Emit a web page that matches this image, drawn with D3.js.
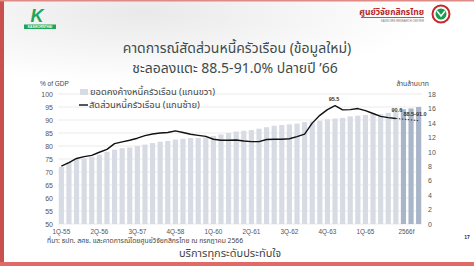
<!DOCTYPE html>
<html><head><meta charset="utf-8">
<script src="https://cdn.jsdelivr.net/npm/d3@7"></script>
<style>
html,body{margin:0;padding:0;background:#fff;}
svg{display:block;font-family:"Noto Sans Thai","Noto Sans","DejaVu Sans",sans-serif;}
</style></head>
<body><svg id="c" width="474" height="266"></svg>
<script>
const quarters = ["1Q-55","2Q-55","3Q-55","4Q-55","1Q-56","2Q-56","3Q-56","4Q-56","1Q-57","2Q-57","3Q-57","4Q-57",
"1Q-58","2Q-58","3Q-58","4Q-58","1Q-59","2Q-59","3Q-59","4Q-59","1Q-60","2Q-60","3Q-60","4Q-60",
"1Q-61","2Q-61","3Q-61","4Q-61","1Q-62","2Q-62","3Q-62","4Q-62","1Q-63","2Q-63","3Q-63","4Q-63",
"1Q-64","2Q-64","3Q-64","4Q-64","1Q-65","2Q-65","3Q-65","4Q-65","1Q-66","2Q-66","3Q-66","4Q-66"];
// outstanding household debt, trillion baht (right axis)
const debtOutstanding = [7.9,8.6,9.0,9.1,9.3,9.6,10.0,10.3,10.5,10.6,10.8,11.0,
11.2,11.4,11.5,11.7,11.8,11.9,11.9,12.0,12.2,12.4,12.6,12.8,
12.9,13.0,13.2,13.4,13.6,13.7,13.8,13.9,14.1,14.2,14.3,14.5,
14.6,14.7,14.9,15.0,15.1,15.3,15.2,15.4,15.5,15.9,16.0,16.2];
const forecastFlag = [0,0,0,0,0,0,0,0,0,0,0,0,0,0,0,0,0,0,0,0,0,0,0,0,0,0,0,0,0,0,0,0,0,0,0,0,0,0,0,0,0,0,0,0,0,1,1,1];
// household debt to GDP, % (left axis), actual up to 1Q-66
const debtToGDP = [72.3,73.6,75.2,75.9,76.4,77.6,78.7,80.9,81.6,82.2,83.0,84.0,
84.6,85.0,85.2,85.8,85.2,84.5,84.1,83.7,82.6,82.2,82.2,82.3,
81.9,81.7,81.7,82.5,82.6,82.6,82.8,83.6,84.6,88.8,91.8,94.0,
95.5,93.9,94.0,94.4,93.6,92.5,91.4,90.9,90.6];
const forecastQuarters = ["1Q-66","4Q-66"];
const forecastValues = [90.6,89.75];
const leftTicks = [50,55,60,65,70,75,80,85,90,95,100];
const rightTicks = [0,2,4,6,8,10,12,14,16,18];
const xTickQuarters = ["1Q-55","2Q-56","3Q-57","4Q-58","1Q-60","2Q-61","3Q-62","4Q-63","1Q-65","2Q-66"];
const xTickLabels = ["1Q-55","2Q-56","3Q-57","4Q-58","1Q-60","2Q-61","3Q-62","4Q-63","1Q-65","2566f"];
const annotations = [{q:"1Q-64", v:95.5, text:"95.5"},{q:"1Q-66", v:90.6, text:"90.6"},{q:"4Q-66", v:89.75, text:"88.5-91.0"}];

const svg = d3.select("#c");
const W=474,H=266;
// frame
svg.append("rect").attr("x",0).attr("y",0).attr("width",W).attr("height",H).attr("fill","#fff");
const defs = svg.append("defs");
const grad = defs.append("radialGradient").attr("id","bg").attr("cx","0.3").attr("cy","0.1").attr("r","0.6");
grad.append("stop").attr("offset","0").attr("stop-color","#e9e9e9");
grad.append("stop").attr("offset","1").attr("stop-color","#ffffff");
svg.append("rect").attr("x",0).attr("y",0).attr("width",W).attr("height",120).attr("fill","url(#bg)");
svg.append("rect").attr("x",0).attr("y",0).attr("width",4).attr("height",H).attr("fill","#c9504c");
svg.append("rect").attr("x",0).attr("y",0).attr("width",W).attr("height",1.5).attr("fill","#e08a86");
svg.append("rect").attr("x",0).attr("y",262).attr("width",W).attr("height",4).attr("fill","#e06b66");

// logos
const lg = svg.append("g");
lg.append("text").attr("x",37).attr("y",22).attr("text-anchor","middle").attr("font-size",18).attr("font-weight","bold")
  .attr("fill","#1fa55a").attr("font-style","italic").attr("font-family","Liberation Sans, Arial, sans-serif").text("K");
lg.append("rect").attr("x",24).attr("y",24.5).attr("width",32).attr("height",4.5).attr("fill","#1fa55a");
lg.append("text").attr("x",40).attr("y",28).attr("text-anchor","middle").attr("font-size",3.2).attr("fill","#fff").attr("font-weight","bold").attr("font-family","Liberation Sans, Arial, sans-serif").text("KASIKORNTHAI");
lg.append("text").attr("x",424).attr("y",15).attr("text-anchor","end").attr("font-size",8.5).attr("font-weight","bold").attr("fill","#b3262a").text("ศูนย์วิจัยกสิกรไทย");
lg.append("line").attr("x1",361).attr("x2",424).attr("y1",17.5).attr("y2",17.5).attr("stroke","#b3262a").attr("stroke-width",0.8);
lg.append("text").attr("x",424).attr("y",22).attr("text-anchor","end").attr("font-size",2.8).attr("fill","#777").attr("font-family","Liberation Sans, Arial, sans-serif").text("KASIKORN RESEARCH CENTER");
lg.append("circle").attr("cx",441).attr("cy",14).attr("r",8.5).attr("fill","#fff").attr("stroke","#c8262b").attr("stroke-width",2);
lg.append("circle").attr("cx",441).attr("cy",14).attr("r",5.5).attr("fill","#1a9c4e");
lg.append("path").attr("d","M437,11 L441,16 L445,11").attr("fill","none").attr("stroke","#fff").attr("stroke-width",1.5);

// title
svg.append("text").attr("x",237).attr("y",53).attr("text-anchor","middle").attr("font-size",14).attr("fill","#3d4b4b").text("คาดการณ์สัดส่วนหนี้ครัวเรือน (ข้อมูลใหม่)");
svg.append("text").attr("x",235).attr("y",72.5).attr("text-anchor","middle").attr("font-size",14).attr("fill","#3d4b4b").text("ชะลอลงแตะ 88.5-91.0% ปลายปี ’66");

// scales
const x = d3.scaleBand().domain(quarters).range([58,422]).paddingInner(0.32).paddingOuter(0.1);
const yL = d3.scaleLinear().domain([50,100]).range([224,94]);
const yR = d3.scaleLinear().domain([0,18]).range([224,94]);
const cx = q => x(q)+x.bandwidth()/2;

// gridlines
svg.append("g").selectAll("line").data(leftTicks).join("line")
  .attr("x1",58).attr("x2",422).attr("y1",d=>yL(d)).attr("y2",d=>yL(d))
  .attr("stroke","#e3e3e3").attr("stroke-width",0.7);

// bars
svg.append("g").selectAll("rect").data(quarters).join("rect")
  .attr("x",d=>x(d)).attr("width",x.bandwidth())
  .attr("y",(d,i)=>yR(debtOutstanding[i])).attr("height",(d,i)=>yR(0)-yR(debtOutstanding[i]))
  .attr("fill",(d,i)=>forecastFlag[i]?"#a9b5c9":"#d7dbe3");

// axes
const axL = d3.axisLeft(yL).tickValues(leftTicks).tickSize(0).tickPadding(4);
const gL = svg.append("g").attr("transform","translate(57,0)").call(axL);
const axR = d3.axisRight(yR).tickValues(rightTicks).tickSize(0).tickPadding(5);
const gR = svg.append("g").attr("transform","translate(423,0)").call(axR);
const axB = d3.axisBottom(x).tickValues(xTickQuarters).tickFormat(q=>xTickLabels[xTickQuarters.indexOf(q)]).tickSize(0).tickPadding(5);
const gB = svg.append("g").attr("transform","translate(0,224)").call(axB);
[gL,gR].forEach(g=>{g.select(".domain").remove(); g.selectAll("text").attr("font-size",7).attr("fill","#555").attr("font-family","Liberation Sans, Arial, sans-serif");});
gB.select(".domain").remove();
gB.selectAll("text").attr("font-size",6.4).attr("fill","#555").attr("font-family","Liberation Sans, Arial, sans-serif");
gB.select(".tick:last-of-type text").attr("dx",3);

// line
const line = d3.line().x((d,i)=>cx(quarters[i])).y(d=>yL(d));
svg.append("path").attr("d",line(debtToGDP)).attr("fill","none").attr("stroke","#111").attr("stroke-width",1.4).attr("stroke-linejoin","round");
svg.append("path").attr("d",d3.line().x((d,i)=>cx(forecastQuarters[i])).y(d=>yL(d))(forecastValues))
  .attr("fill","none").attr("stroke","#333").attr("stroke-width",1).attr("stroke-dasharray","1.5,1.5");

// annotations
const ann = svg.append("g").attr("font-family","Liberation Sans, Arial, sans-serif").attr("font-size",5.5).attr("font-weight","bold").attr("fill","#333");
ann.append("text").attr("x",cx(annotations[0].q)-1).attr("y",yL(annotations[0].v)-5).attr("text-anchor","middle").text(annotations[0].text);
ann.append("text").attr("x",cx(annotations[1].q)+1).attr("y",yL(annotations[1].v)-6).attr("text-anchor","middle").text(annotations[1].text);
ann.append("text").attr("x",cx(annotations[2].q)+8).attr("y",yL(annotations[2].v)-4.5).attr("text-anchor","end").text(annotations[2].text);

// axis titles
svg.append("text").attr("x",40).attr("y",86).attr("font-size",6.5).attr("fill","#444").attr("font-family","Liberation Sans, Arial, sans-serif").text("% of GDP");
svg.append("text").attr("x",429).attr("y",86).attr("text-anchor","end").attr("font-size",6.8).attr("fill","#444").text("ล้านล้านบาท");

// legend
svg.append("rect").attr("x",80).attr("y",89).attr("width",8).attr("height",6).attr("fill","#d7dbe3");
svg.append("text").attr("x",90).attr("y",95).attr("font-size",9.4).attr("fill","#444").text("ยอดคงค้างหนี้ครัวเรือน (แกนขวา)");
svg.append("line").attr("x1",79).attr("x2",88).attr("y1",105).attr("y2",105).attr("stroke","#111").attr("stroke-width",1.4);
svg.append("text").attr("x",89).attr("y",108).attr("font-size",9.4).attr("fill","#444").text("สัดส่วนหนี้ครัวเรือน (แกนซ้าย)");

// source & footer
svg.append("text").attr("x",47).attr("y",243).attr("font-size",6.8).attr("fill","#444").text("ที่มา: ธปท. สศช. และคาดการณ์โดยศูนย์วิจัยกสิกรไทย ณ กรกฎาคม 2566");
svg.append("text").attr("x",230).attr("y",257).attr("text-anchor","middle").attr("font-size",11).attr("fill","#444").text("บริการทุกระดับประทับใจ");
svg.append("text").attr("x",467).attr("y",239).attr("text-anchor","middle").attr("font-size",5).attr("font-weight","bold").attr("fill","#333").attr("font-family","Liberation Sans, Arial, sans-serif").text("17");
</script></body></html>
